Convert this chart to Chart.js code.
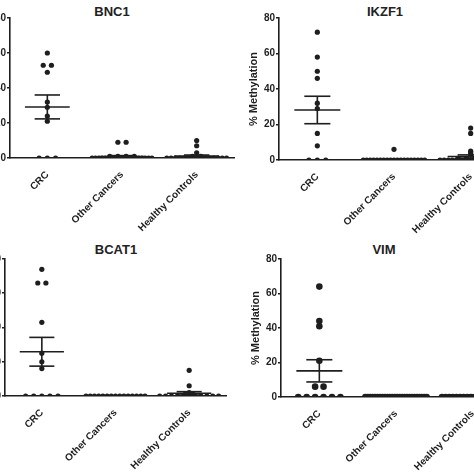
<!DOCTYPE html>
<html>
<head>
<meta charset="utf-8">
<script src="https://cdn.jsdelivr.net/npm/chart.js@4"></script>
<style>
  body { margin: 0; width: 474px; height: 474px; overflow: hidden; background: #fff; position: relative; font-family: "Liberation Sans", Arial, sans-serif; }
  .panel { position: absolute; }
  .title { position: absolute; font-weight: bold; font-size: 13px; color: #222; transform: translate(-50%, -50%); white-space: nowrap; }
</style>
</head>
<body>
<div class="title" style="left:112px; top:11px;">BNC1</div>
<div class="title" style="left:385px; top:11px;">IKZF1</div>
<div class="title" style="left:116px; top:249px;">BCAT1</div>
<div class="title" style="left:384px; top:249px;">VIM</div>

<div class="panel" style="left:-22px; top:11px; width:260px; height:222px;"><canvas id="bnc1"></canvas></div>
<div class="panel" style="left:247px; top:11px; width:266px; height:224px;"><canvas id="ikzf1"></canvas></div>
<div class="panel" style="left:-27px; top:252px; width:257px; height:219px;"><canvas id="bcat1"></canvas></div>
<div class="panel" style="left:249px; top:252px; width:266px; height:220px;"><canvas id="vim"></canvas></div>

<script>
const groups = ['CRC', 'Other Cancers', 'Healthy Controls'];
const yTicks = [0, 20, 40, 60, 80];

// % methylation per sample
const bnc1Crc = [60, 53, 53, 49, 32, 29, 24, 21, 0, 0, 0];
const bnc1Other = [9, 9, 1, 1, 1, 1, 0, 0, 0, 0, 0, 0, 0, 0, 0, 0, 0, 0, 0, 0, 0, 0, 0, 0, 0];
const bnc1Healthy = [10, 7, 3, 1, 1, 0, 0, 0, 0, 0, 0, 0, 0, 0, 0, 0, 0, 0, 0, 0];

const ikzf1Crc = [72, 58, 50, 46, 32, 29, 15, 8, 0, 0, 0];
const ikzf1Other = [6, 0, 0, 0, 0, 0, 0, 0, 0, 0, 0, 0, 0, 0, 0, 0, 0, 0, 0, 0];
const ikzf1Healthy = [18, 15, 5, 4, 3, 1, 1, 1, 1, 0, 0, 0, 0, 0, 0, 0, 0, 0, 0, 0, 0, 0, 0, 0, 0];

const bcat1Crc = [74, 66, 66, 43, 25, 20, 16, 0, 0, 0, 0, 0];
const bcat1Other = [0, 0, 0, 0, 0, 0, 0, 0, 0, 0, 0, 0, 0, 0, 0];
const bcat1Healthy = [15, 6, 2, 1, 1, 0, 0, 0, 0, 0, 0, 0, 0, 0, 0, 0];

const vimCrc = [64, 44, 41, 21, 6, 6, 0, 0, 0, 0, 0, 0];
const vimOther = [0, 0, 0, 0, 0, 0, 0, 0, 0, 0, 0, 0, 0, 0, 0, 0, 0, 0, 0, 0, 0, 0, 0, 0, 0, 0];
const vimHealthy = [0, 0, 0, 0, 0, 0, 0, 0, 0, 0, 0, 0, 0, 0, 0, 0, 0, 0];

const ink = '#1e1e1e';

// spread identical values sideways like a dot plot
function dots(values, center) {
    const counts = {};
    values.forEach(v => counts[v] = (counts[v] || 0) + 1);
    const seen = {};
    return values.map(v => {
        const n = counts[v];
        const i = seen[v] = (seen[v] === undefined ? 0 : seen[v] + 1);
        const step = n > 1 ? Math.min(0.11, 0.8 / (n - 1)) : 0;
        return { x: center + (i - (n - 1) / 2) * step, y: v };
    });
}

function meanSem(values) {
    const n = values.length;
    const m = values.reduce((a, b) => a + b, 0) / n;
    const sd = Math.sqrt(values.reduce((a, b) => a + (b - m) ** 2, 0) / (n - 1));
    return [m, sd / Math.sqrt(n)];
}

function statLines(values, c) {
    const [m, s] = meanSem(values);
    const seg = pts => ({ type: 'line', data: pts, borderColor: ink, borderWidth: 1.6, pointRadius: 0, order: 0 });
    return [
        seg([{ x: c - 0.3, y: m }, { x: c + 0.3, y: m }]),
        seg([{ x: c - 0.17, y: m + s }, { x: c + 0.17, y: m + s }]),
        seg([{ x: c - 0.17, y: m - s }, { x: c + 0.17, y: m - s }]),
        seg([{ x: c, y: m - s }, { x: c, y: m + s }])
    ];
}

function drawPanel(id, sets, radius) {
    const datasets = [];
    sets.forEach((vals, i) => {
        datasets.push({ type: 'scatter', data: dots(vals, i + 1), backgroundColor: ink, borderWidth: 0, pointRadius: radius, order: 1 });
        datasets.push(...statLines(vals, i + 1));
    });
    new Chart(document.getElementById(id), {
        type: 'scatter',
        data: { datasets },
        options: {
            responsive: true,
            maintainAspectRatio: false,
            animation: false,
            layout: { padding: { top: 6, right: 0 } },
            plugins: { legend: { display: false }, tooltip: { enabled: false } },
            scales: {
                x: {
                    type: 'linear', min: 0.5, max: 3.5,
                    afterBuildTicks: s => { s.ticks = groups.map((g, i) => ({ value: i + 1 })); },
                    afterFit: s => { s.height = 75; },
                    ticks: {
                        callback: v => groups[v - 1],
                        minRotation: 45, maxRotation: 45, autoSkip: false,
                        color: ink, font: { family: 'Liberation Sans', size: 10, weight: 'bold' }
                    },
                    grid: { display: false },
                    border: { color: ink, width: 1.6 }
                },
                y: {
                    min: 0, max: 80,
                    afterBuildTicks: s => { s.ticks = yTicks.map(v => ({ value: v })); },
                    afterFit: s => { s.width = 32; },
                    ticks: { padding: 1, color: ink, font: { family: 'Liberation Sans', size: 10, weight: 'bold' } },
                    grid: { drawOnChartArea: false, drawTicks: true, tickLength: 3, color: ink, lineWidth: 1.6 },
                    border: { color: ink, width: 1.6 },
                    title: { display: true, text: '% Methylation', padding: 0, color: ink, font: { family: 'Liberation Sans', size: 11, weight: 'bold' } }
                }
            }
        }
    });
}

drawPanel('bnc1', [bnc1Crc, bnc1Other, bnc1Healthy], 2.6);
drawPanel('ikzf1', [ikzf1Crc, ikzf1Other, ikzf1Healthy], 2.6);
drawPanel('bcat1', [bcat1Crc, bcat1Other, bcat1Healthy], 2.6);
drawPanel('vim', [vimCrc, vimOther, vimHealthy], 3.3);
</script>
</body>
</html>
